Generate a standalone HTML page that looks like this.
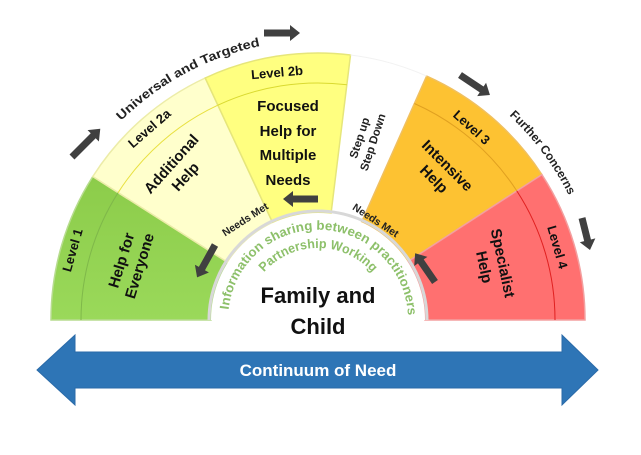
<!DOCTYPE html>
<html><head><meta charset="utf-8"><style>
html,body{margin:0;padding:0;background:#fff;}
svg{display:block;font-family:"Liberation Sans",sans-serif;}
</style></head><body>
<svg width="641" height="455" viewBox="0 0 641 455" xmlns="http://www.w3.org/2000/svg">
<defs>
<linearGradient id="gG" x1="0" y1="0" x2="0" y2="1"><stop offset="0" stop-color="#8ccc4a"/><stop offset="1" stop-color="#9ad95a"/></linearGradient>
<path id="pU" d="M103.5,140 A280,280 0 0 1 269.4,44.3"/>
<path id="pF" d="M498,105.5 A280,280 0 0 1 577.6,215.1"/>
<path id="pI" d="M228.2,313.7 A90,90 0 0 1 407.8,313.7"/>
<path id="pP" d="M262.8,273.7 A72,72 0 0 1 373.2,273.7"/>
</defs>

<!-- sectors -->
<path d="M51,320 A267,267 0 0 1 92.8,176.5 L227.8,262.5 A107,107 0 0 0 211,320 Z" fill="url(#gG)" stroke="#b7dc8f" stroke-width="1.5"/>
<path d="M92.8,176.5 A267,267 0 0 1 205.2,78 L272.8,223 A107,107 0 0 0 227.8,262.5 Z" fill="#ffffcc" stroke="#ececa8" stroke-width="1.5"/>
<path d="M205.2,78 A267,267 0 0 1 350.5,55 L331,213.8 A107,107 0 0 0 272.8,223 Z" fill="#ffff80" stroke="#e6e67a" stroke-width="1.5"/>
<path d="M426.6,76.1 A267,267 0 0 1 541.9,174.6 L407.7,261.7 A107,107 0 0 0 361.5,222.3 Z" fill="#fdc232" stroke="#f0c060" stroke-width="1.5"/>
<path d="M541.9,174.6 A267,267 0 0 1 585,320 L425,320 A107,107 0 0 0 407.7,261.7 Z" fill="#ff7070" stroke="#f3a0a0" stroke-width="1.5"/>
<!-- faint white gap edge -->
<path d="M350.5,55 A267,267 0 0 1 426.6,76.1" fill="none" stroke="#f2f2f2" stroke-width="1"/>

<!-- band lines -->
<path d="M81,320 A237,237 0 0 1 118.1,192.7" fill="none" stroke="#7fb84a" stroke-width="1"/>
<path d="M118.1,192.7 A237,237 0 0 1 217.8,105.2" fill="none" stroke="#e8e040" stroke-width="1"/>
<path d="M217.8,105.2 A237,237 0 0 1 346.9,84.8" fill="none" stroke="#dada30" stroke-width="1"/>
<path d="M414.4,103.5 A237,237 0 0 1 516.8,190.9" fill="none" stroke="#e0a020" stroke-width="1"/>
<path d="M516.8,190.9 A237,237 0 0 1 555,320" fill="none" stroke="#e02020" stroke-width="1"/>

<!-- center circle -->
<path d="M209,320 A109,109 0 0 1 427,320" fill="none" stroke="#d8d8d8" stroke-width="3"/>
<path d="M211,320 A107,107 0 0 1 425,320 Z" fill="#fff"/>

<!-- blue arrow -->
<path d="M37,370 L75,335 L75,352 L562,352 L562,335 L598,370 L562,405 L562,388 L75,388 L75,405 Z" fill="#2e75b6" stroke="#2a6aa8" stroke-width="1"/>
<text x="318" y="376" text-anchor="middle" font-size="17" font-weight="bold" fill="#fff">Continuum of Need</text>

<!-- dark arrows -->
<g fill="#404040">
<path transform="translate(72,157) rotate(-45)" d="M0,-3.5 H30 V-8 L40,0 L30,8 V3.5 H0Z"/>
<path transform="translate(264,33)" d="M0,-3.5 H26 V-8 L36,0 L26,8 V3.5 H0Z"/>
<path transform="translate(460,75) rotate(33.7)" d="M0,-3.5 H26 V-8 L36,0 L26,8 V3.5 H0Z"/>
<path transform="translate(582,218) rotate(76)" d="M0,-3.5 H23 V-8 L33,0 L23,8 V3.5 H0Z"/>
<path transform="translate(318,199) rotate(180)" d="M0,-3.5 H25 V-8 L35,0 L25,8 V3.5 H0Z"/>
<path transform="translate(215,245) rotate(119)" d="M0,-3.5 H27 V-8 L37,0 L27,8 V3.5 H0Z"/>
<path transform="translate(435,282) rotate(-124.6)" d="M0,-3.5 H25 V-8 L35,0 L25,8 V3.5 H0Z"/>
</g>

<!-- curved texts -->
<text font-size="12.5" font-weight="bold" fill="#222"><textPath href="#pU" startOffset="26" textLength="160" lengthAdjust="spacingAndGlyphs">Universal and Targeted</textPath></text>
<text font-size="12" font-weight="bold" fill="#222"><textPath href="#pF" startOffset="15" textLength="100" lengthAdjust="spacingAndGlyphs">Further Concerns</textPath></text>
<text font-size="13" font-weight="bold" fill="#8dc06a"><textPath href="#pI" startOffset="4" textLength="268" lengthAdjust="spacingAndGlyphs">Information sharing between practitioners</textPath></text>
<text font-size="13" font-weight="bold" fill="#8dc06a"><textPath href="#pP" startOffset="2" textLength="122" lengthAdjust="spacingAndGlyphs">Partnership Working</textPath></text>

<!-- level labels -->
<g font-size="13" font-weight="bold" fill="#111" text-anchor="middle">
<text transform="translate(72,250) rotate(-74)" y="5">Level 1</text>
<text transform="translate(149,128) rotate(-41)" y="5">Level 2a</text>
<text transform="translate(277,72) rotate(-5)" y="5">Level 2b</text>
<text transform="translate(472,127) rotate(42)" y="5">Level 3</text>
<text transform="translate(558,247) rotate(74)" y="5">Level 4</text>
</g>
<g font-size="15" font-weight="bold" fill="#111" text-anchor="middle">
<g transform="translate(130,263) rotate(-73)"><text y="-4">Help for</text><text y="15">Everyone</text></g>
<g transform="translate(178,170) rotate(-48)"><text y="-4">Additional</text><text y="15">Help</text></g>
<text x="288" y="111">Focused</text>
<text x="288" y="136">Help for</text>
<text x="288" y="160">Multiple</text>
<text x="288" y="185">Needs</text>
<g transform="translate(441,172) rotate(45)"><text y="-4">Intensive</text><text y="15">Help</text></g>
<g transform="translate(494,265) rotate(78)"><text y="-4">Specialist</text><text y="15">Help</text></g>
</g>
<g font-size="11.5" font-weight="bold" fill="#222" text-anchor="middle">
<g transform="translate(366,140) rotate(-72)"><text y="-3">Step up</text><text y="11">Step Down</text></g>
</g>
<g font-size="10.5" font-weight="bold" fill="#222" text-anchor="middle">
<text transform="translate(245,219) rotate(-33)" y="4">Needs Met</text>
<text transform="translate(376,220) rotate(33)" y="4">Needs Met</text>
</g>

<g font-size="22" font-weight="bold" fill="#111" text-anchor="middle">
<text x="318" y="303">Family and</text>
<text x="318" y="334">Child</text>
</g>
</svg>
</body></html>
